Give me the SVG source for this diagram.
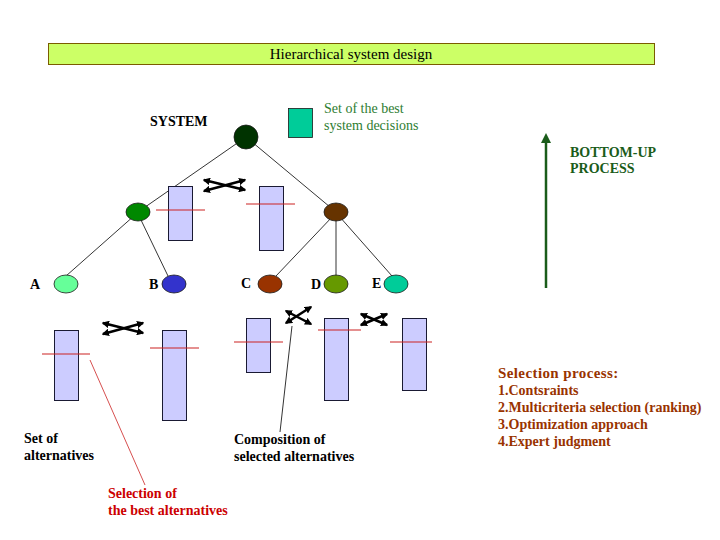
<svg xmlns="http://www.w3.org/2000/svg" width="720" height="540" viewBox="0 0 720 540">
<style>
text{font-family:"Liberation Serif","DejaVu Serif","Times New Roman",serif}
.alt{fill:#ccccff;stroke:#1a1a33;stroke-width:1}
.red{stroke:#cc2222;stroke-width:1.2}
.edge{stroke:#000;stroke-width:0.8;fill:none}
.node{stroke:#1a1a1a;stroke-width:0.8}
.xa{stroke:#000;stroke-width:2.5;fill:none;marker-start:url(#ah);marker-end:url(#ah)}
.lbl{font-size:14px;font-weight:bold;fill:#000}
.note{font-size:14px;font-weight:bold;fill:#000}
.sel{font-size:14px;font-weight:bold;fill:#993300}
</style>
<defs>
<marker id="ah" viewBox="0 0 10 10" refX="8" refY="5" markerWidth="3" markerHeight="3" orient="auto-start-reverse" markerUnits="strokeWidth">
<path d="M0,0 L10,5 L0,10 z" fill="#000"/>
</marker>
<marker id="gh" viewBox="0 0 10 10" refX="5" refY="5" markerWidth="4" markerHeight="4" orient="auto" markerUnits="strokeWidth">
<path d="M0,0 L10,5 L0,10 z" fill="#1a5c1a"/>
</marker>
</defs>
<rect width="720" height="540" fill="#fff"/>

<g id="title">
<rect x="48.5" y="43.5" width="606" height="21" fill="#ccff66" stroke="#7a5c00" stroke-width="1"/>
<text x="351" y="59" font-size="15" text-anchor="middle" fill="#000">Hierarchical system design</text>
</g>

<g id="connectors">
<line class="edge" x1="246" y1="137" x2="138" y2="212"/>
<line class="edge" x1="246" y1="137" x2="336" y2="212"/>
<line class="edge" x1="135" y1="215" x2="66" y2="276"/>
<line class="edge" x1="141" y1="220" x2="168" y2="276"/>
<line class="edge" x1="333" y1="216" x2="276" y2="276"/>
<line class="edge" x1="336" y1="220" x2="336" y2="276"/>
<line class="edge" x1="339" y1="216" x2="392" y2="276"/>
<line x1="292" y1="326" x2="280" y2="432" stroke="#000" stroke-width="0.8"/>
<line x1="90" y1="360" x2="145" y2="485" stroke="#cc2222" stroke-width="0.8"/>
<line class="xa" x1="204" y1="180" x2="245" y2="190"/>
<line class="xa" x1="204" y1="191" x2="245" y2="180"/>
<line class="xa" x1="103" y1="323" x2="143" y2="333"/>
<line class="xa" x1="103" y1="334" x2="143" y2="323"/>
<line class="xa" x1="286" y1="311" x2="311" y2="324"/>
<line class="xa" x1="286" y1="323" x2="311" y2="307"/>
<line class="xa" x1="361" y1="314" x2="387" y2="325"/>
<line class="xa" x1="361" y1="325" x2="387" y2="314"/>
<line x1="546" y1="288" x2="546" y2="138" stroke="#1a5c1a" stroke-width="2.5" marker-end="url(#gh)"/>
</g>

<g id="system">
<circle class="node" cx="246" cy="137" r="12" fill="#003300"/>
<text class="lbl" x="150" y="126">SYSTEM</text>
</g>

<g id="best-decisions">
<rect x="288.5" y="108.5" width="24" height="29" fill="#00cc99" stroke="#1a1a1a" stroke-width="0.8"/>
<text x="324" y="113" font-size="14" fill="#2e7d32">Set of the best</text>
<text x="324" y="130" font-size="14" fill="#2e7d32">system decisions</text>
</g>

<g id="node-l"><ellipse class="node" cx="138" cy="212" rx="12" ry="9" fill="#008800"/></g>
<g id="node-r"><ellipse class="node" cx="336" cy="212" rx="12" ry="9" fill="#663300"/></g>

<g id="alt-top1"><rect class="alt" x="168.5" y="186.5" width="24" height="54"/><line class="red" x1="156" y1="210" x2="205" y2="210"/></g>
<g id="alt-top2"><rect class="alt" x="259.5" y="186.5" width="24" height="64"/><line class="red" x1="246" y1="204" x2="295" y2="204"/></g>

<g id="node-a"><ellipse class="node" cx="66" cy="284" rx="12" ry="9" fill="#66ff99"/><text class="lbl" x="30" y="289">A</text></g>
<g id="node-b"><ellipse class="node" cx="174" cy="284" rx="12" ry="9" fill="#3333cc"/><text class="lbl" x="149" y="289">B</text></g>
<g id="node-c"><ellipse class="node" cx="270" cy="284" rx="12" ry="9" fill="#993300"/><text class="lbl" x="241" y="288">C</text></g>
<g id="node-d"><ellipse class="node" cx="336" cy="284" rx="12" ry="9" fill="#669900"/><text class="lbl" x="311" y="289">D</text></g>
<g id="node-e"><ellipse class="node" cx="396" cy="284" rx="12" ry="9" fill="#00cc99"/><text class="lbl" x="372" y="288">E</text></g>

<g id="alt-a"><rect class="alt" x="54.5" y="330.5" width="24" height="70"/><line class="red" x1="42" y1="354" x2="90" y2="354"/></g>
<g id="alt-b"><rect class="alt" x="162.5" y="330.5" width="24" height="90"/><line class="red" x1="150" y1="348" x2="199" y2="348"/></g>
<g id="alt-c"><rect class="alt" x="246.5" y="318.5" width="24" height="54"/><line class="red" x1="234" y1="342" x2="283" y2="342"/></g>
<g id="alt-d"><rect class="alt" x="324.5" y="318.5" width="24" height="82"/><line class="red" x1="318" y1="330" x2="361" y2="330"/></g>
<g id="alt-e"><rect class="alt" x="402.5" y="318.5" width="24" height="72"/><line class="red" x1="390" y1="342" x2="432" y2="342"/></g>

<g id="bottom-up">
<text x="570" y="157" font-size="14" font-weight="bold" fill="#1a5c1a">BOTTOM-UP</text>
<text x="570" y="173" font-size="14" font-weight="bold" fill="#1a5c1a">PROCESS</text>
</g>

<g id="selection-process">
<text x="498" y="378" font-size="15" font-weight="bold" fill="#993300" letter-spacing="0.4">Selection process:</text>
<text class="sel" x="498" y="395">1.Contsraints</text>
<text class="sel" x="498" y="412">2.Multicriteria selection (ranking)</text>
<text class="sel" x="498" y="429">3.Optimization approach</text>
<text class="sel" x="498" y="446">4.Expert judgment</text>
</g>

<g id="labels">
<text class="note" x="24" y="443">Set of</text>
<text class="note" x="24" y="460">alternatives</text>
<text class="note" x="234" y="444">Composition of</text>
<text class="note" x="234" y="461">selected alternatives</text>
<text class="note" x="108" y="498" style="fill:#cc0000">Selection of</text>
<text class="note" x="108" y="515" style="fill:#cc0000">the best alternatives</text>
</g>
</svg>
